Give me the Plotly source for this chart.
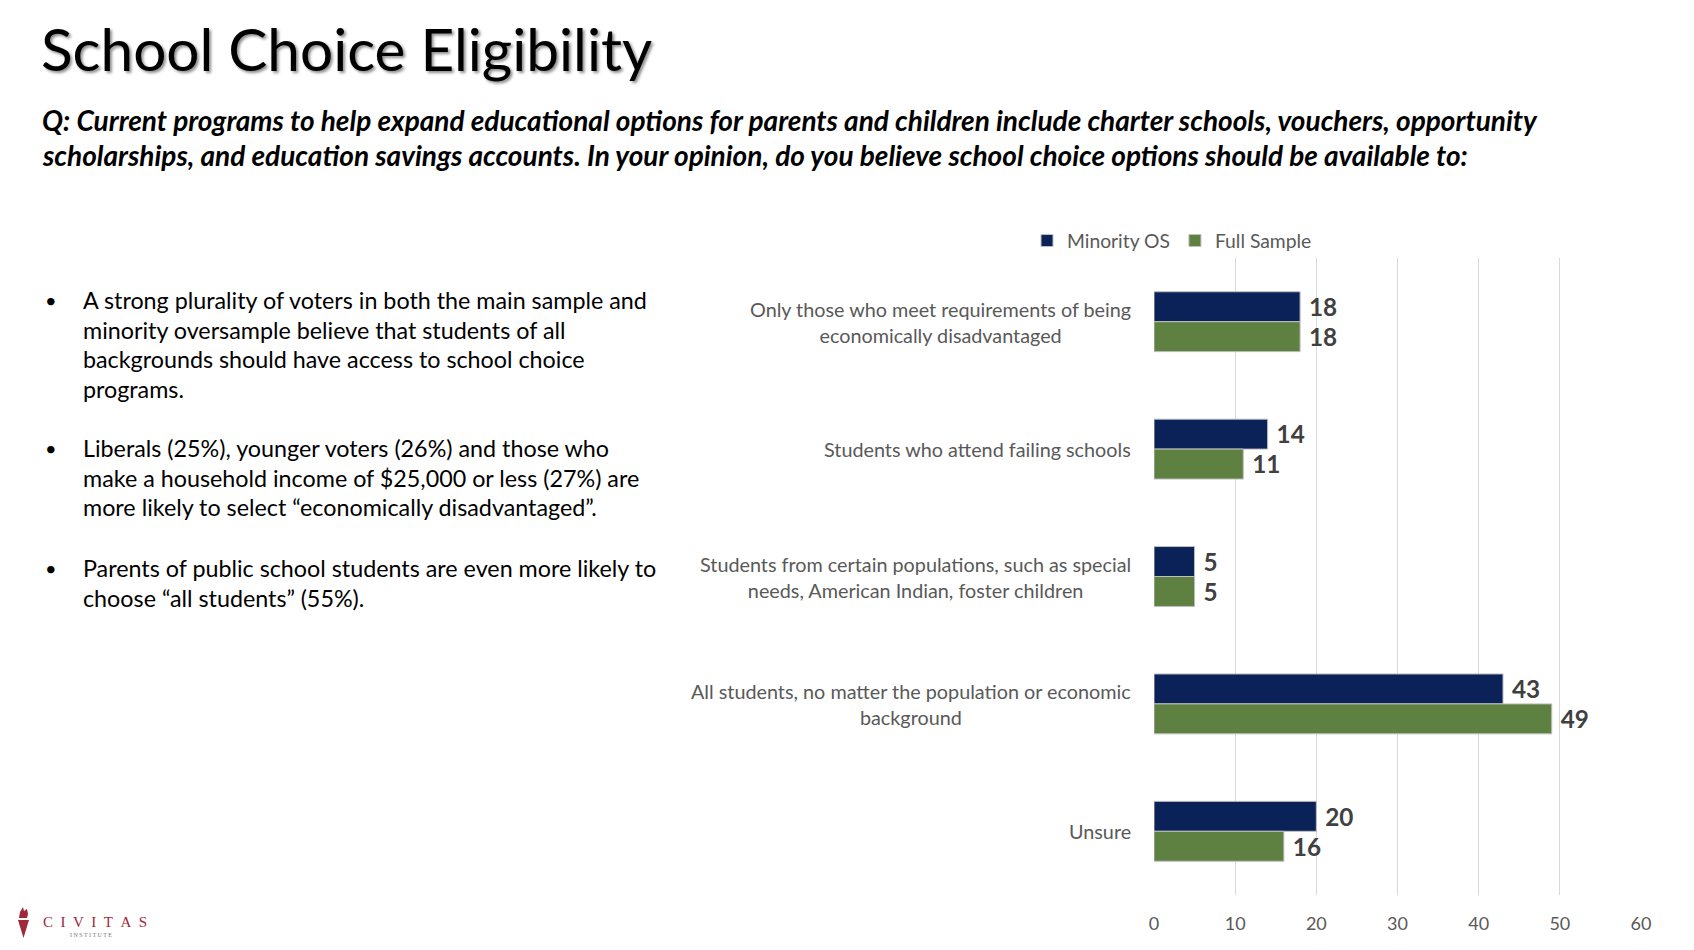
import plotly.graph_objects as go

# ---------------- data ----------------
categories = [
    "Only those who meet requirements of being<br>economically disadvantaged",
    "Students who attend failing schools",
    "Students from certain populations, such as special<br>needs, American Indian, foster children",
    "All students, no matter the population or economic<br>background",
    "Unsure",
]
cat_keys = ["econ", "failing", "pops", "all", "unsure"]
minority_os = [18, 14, 5, 43, 20]
full_sample = [18, 11, 5, 49, 16]
series_names = ["Minority OS", "Full Sample"]
x_ticks = [0, 10, 20, 30, 40, 50, 60]

title_text = "School Choice Eligibility"
question_lines = [
    "Q: Current programs to help expand educational options for parents and children include charter schools, vouchers, opportunity",
    "scholarships, and education savings accounts. In your opinion, do you believe school choice options should be available to:",
]
bullet_paragraphs = [
    ["A strong plurality of voters in both the main sample and",
     "minority oversample believe that students of all",
     "backgrounds should have access to school choice",
     "programs."],
    ["Liberals (25%), younger voters (26%) and those who",
     "make a household income of $25,000 or less (27%) are",
     "more likely to select \u201ceconomically disadvantaged\u201d."],
    ["Parents of public school students are even more likely to",
     "choose \u201call students\u201d (55%)."],
]

# ---------------- layout geometry (pixels) ----------------
W, H = 1694, 950
L, R, T, B = 1154, 53, 258, 55
PW = W - L - R
PH = H - T - B


def pxx(x):
    return (x - L) / PW


def pxy(y):
    return (H - B - y) / PH


FONT = "Lato"
NAVY = "#0B2259"
GREEN = "#5E8040"
GRAY = "#595959"
VALFONT = dict(family=FONT, size=26, color="#404040", weight="bold")

fig = go.Figure()
fig.add_trace(go.Bar(
    y=cat_keys, x=minority_os, name=series_names[0], orientation="h",
    marker=dict(color=NAVY, line=dict(color="#BFBFBF", width=1)),
    text=minority_os, texttemplate="\u00a0%{x}", textposition="outside",
    textfont=VALFONT, cliponaxis=False,
))
fig.add_trace(go.Bar(
    y=cat_keys, x=full_sample, name=series_names[1], orientation="h",
    marker=dict(color=GREEN, line=dict(color="#BFBFBF", width=1)),
    text=full_sample, texttemplate="\u00a0%{x}", textposition="outside",
    textfont=VALFONT, cliponaxis=False,
))

annotations = []
# category labels
for key, lab in zip(cat_keys, categories):
    annotations.append(dict(
        xref="paper", yref="y", x=0, y=key, xshift=-21,
        xanchor="right", yanchor="middle", align="center",
        text=lab, showarrow=False,
        font=dict(family=FONT, size=19.8, color=GRAY),
    ))

# title
annotations.append(dict(
    xref="paper", yref="paper", x=pxx(39), y=pxy(48),
    xanchor="left", yanchor="middle", text=title_text, showarrow=False,
    font=dict(family=FONT, size=58.5, color="#000000", shadow="2px 2px 3px rgba(0,0,0,0.45)"),
))
# question
for i, line in enumerate(question_lines):
    annotations.append(dict(
        xref="paper", yref="paper", x=pxx(40), y=pxy(120 + 35 * i),
        xanchor="left", yanchor="middle", text=line, showarrow=False,
        font=dict(family=FONT, size=28, color="#000000", weight="bold", style="italic"),
    ))
# bullets
para_starts = [300, 448, 568]
for start, para in zip(para_starts, bullet_paragraphs):
    annotations.append(dict(
        xref="paper", yref="paper", x=pxx(43), y=pxy(start),
        xanchor="left", yanchor="middle", text="\u2022", showarrow=False,
        font=dict(family=FONT, size=20, color="#000000"),
    ))
    for j, line in enumerate(para):
        annotations.append(dict(
            xref="paper", yref="paper", x=pxx(81), y=pxy(start + 29.7 * j),
            xanchor="left", yanchor="middle", text=line, showarrow=False,
            font=dict(family=FONT, size=23.3, color="#000000"),
        ))

# logo text
LOGO = "#A0283A"
annotations.append(dict(
    xref="paper", yref="paper", x=pxx(41), y=pxy(922),
    xanchor="left", yanchor="middle", text="C\u2002I\u2002V\u2002I\u2002T\u2002A\u2002S", showarrow=False,
    font=dict(family="Liberation Serif", size=15, color=LOGO),
))
annotations.append(dict(
    xref="paper", yref="paper", x=pxx(68), y=pxy(935),
    xanchor="left", yanchor="middle", text="I N S T I T U T E", showarrow=False,
    font=dict(family="Liberation Serif", size=6, color="#777777"),
))

# torch shapes (decoration)
def ppath(points):
    s = ""
    for k, (a, b) in enumerate(points):
        s += ("M" if k == 0 else "L") + f"{pxx(a):.5f},{pxy(b):.5f} "
    return s + "Z"

shapes = [
    dict(type="path", xref="paper", yref="paper",
         path=ppath([(18, 920), (29, 920), (23.5, 938)]),
         fillcolor=LOGO, line=dict(width=0)),
    dict(type="path", xref="paper", yref="paper",
         path=ppath([(19, 918), (20, 912), (23, 907), (24, 911), (27, 909), (28, 914), (27, 918)]),
         fillcolor=LOGO, line=dict(width=0)),
]

fig.update_layout(
    width=W, height=H,
    margin=dict(l=L, r=R, t=T, b=B, pad=0),
    paper_bgcolor="white", plot_bgcolor="white",
    barmode="group", bargap=0.53, bargroupgap=0,
    showlegend=True,
    legend=dict(
        orientation="h", x=pxx(1027), y=pxy(241), xanchor="left", yanchor="middle",
        font=dict(family=FONT, size=19.3, color=GRAY), traceorder="normal",
        itemwidth=30, bgcolor="rgba(0,0,0,0)",
    ),
    xaxis=dict(
        range=[0, 60], tickvals=x_ticks, showgrid=True, gridcolor="#D9D9D9", gridwidth=1,
        zeroline=False, showline=False, ticks="", ticklabelstandoff=16,
        tickfont=dict(family=FONT, size=18, color=GRAY), fixedrange=True,
    ),
    yaxis=dict(
        categoryorder="array", categoryarray=cat_keys, autorange="reversed",
        showticklabels=False, showgrid=False, zeroline=False, showline=False, ticks="",
        fixedrange=True,
    ),
    annotations=annotations,
    shapes=shapes,
)

fig.write_html("out.html")
